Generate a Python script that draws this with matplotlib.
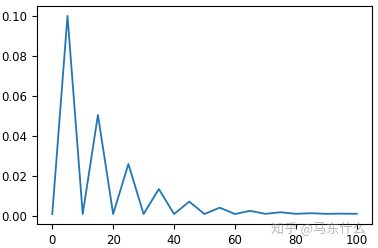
import matplotlib
matplotlib.use("Agg")
import matplotlib.pyplot as plt

x = [0, 5, 10, 15, 20, 25, 30, 35, 40, 45, 50, 55, 60, 65, 70, 75, 80, 85, 90, 95, 100]
y = [0.001, 0.100, 0.001, 0.0505, 0.001, 0.026, 0.001, 0.0135, 0.001, 0.0072, 0.001,
     0.0042, 0.001, 0.0026, 0.0011, 0.0019, 0.0011, 0.0014, 0.0011, 0.0012, 0.0011]
xticks = [0, 20, 40, 60, 80, 100]
yticks = [0.00, 0.02, 0.04, 0.06, 0.08, 0.10]

fig = plt.figure(figsize=(3.78, 2.48), dpi=100)
ax = fig.add_axes([0.098, 0.097, 0.886, 0.879])
ax.plot(x, y, color="#1f77b4", linewidth=1.3)
ax.set_xticks(xticks)
ax.set_yticks(yticks)
ax.set_yticklabels([f"{v:.2f}" for v in yticks])
ax.tick_params(labelsize=8.5)
fig.text(0.968, 0.077, "知乎 @马东什么", fontsize=9.5, color="gray", alpha=0.55,
         ha="right", va="center", family=["Noto Sans CJK SC", "DejaVu Sans"])
fig.savefig("out.png", dpi=100)
